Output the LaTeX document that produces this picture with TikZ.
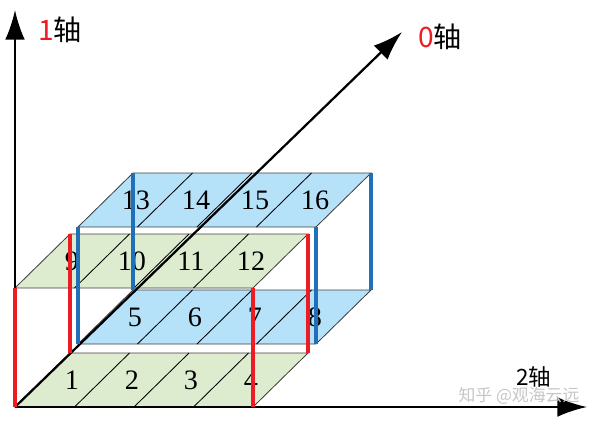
\documentclass[tikz,border=0pt]{standalone}
\usepackage{fontspec}
\setmainfont{Liberation Serif}
\newfontfamily\cjk{Noto Sans CJK SC}
\usetikzlibrary{arrows.meta}
\definecolor{cellgreen}{RGB}{221,235,207}
\definecolor{cellblue}{RGB}{181,225,249}
\definecolor{postblue}{RGB}{31,112,185}
\definecolor{postred}{RGB}{235,28,36}

\begin{document}
\begin{tikzpicture}[x=0.025cm,y=0.025cm,
    greenlayer/.style={fill=cellgreen,draw=black!75,line width=0.6pt},
    bluelayer/.style={fill=cellblue,draw=black!75,line width=0.6pt},
    divline/.style={black,line width=0.6pt},
    redpost/.style={postred,line width=2.4pt},
    bluepost/.style={postblue,line width=2.4pt},
    axis/.style={line width=1.6pt,-{Latex[length=21pt,width=14pt]}},
    num/.style={font=\fontsize{20}{24}\selectfont,inner sep=0pt},
    axlabel/.style={font=\cjk\fontsize{20}{24}\selectfont,inner sep=0pt}]
          \useasboundingbox (-15,-17) rectangle (585,407);
          % the four layers, bottom to top
          \filldraw[greenlayer] (0,0) -- ++(238,0) -- ++(55,54) -- ++(-238,0) -- cycle;
          \draw[divline] (59.5,0) -- ++(55,54) (119,0) -- ++(55,54) (178.5,0) -- ++(55,54);
          \filldraw[bluelayer] (63,63) -- ++(238,0) -- ++(55,54) -- ++(-238,0) -- cycle;
          \draw[divline] (122.5,63) -- ++(55,54) (182,63) -- ++(55,54) (241.5,63) -- ++(55,54);
          \filldraw[greenlayer] (0,119) -- ++(238,0) -- ++(55,54) -- ++(-238,0) -- cycle;
          \draw[divline] (59.5,119) -- ++(55,54) (119,119) -- ++(55,54) (178.5,119) -- ++(55,54);
          \filldraw[bluelayer] (63,180) -- ++(238,0) -- ++(55,54) -- ++(-238,0) -- cycle;
          \draw[divline] (122.5,180) -- ++(55,54) (182,180) -- ++(55,54) (241.5,180) -- ++(55,54);
          % cell numbers
          \node[num] (n1) at (57,27) {1};
          \node[num] (n2) at (117,27) {2};
          \node[num] (n3) at (176,27) {3};
          \node[num] (n4) at (236,27) {4};
          \node[num] (n5) at (120,90) {5};
          \node[num] (n6) at (180,90) {6};
          \node[num] (n7) at (240,90) {7};
          \node[num] (n8) at (300,90) {8};
          \node[num] (n9) at (57,146) {9};
          \node[num] (n10) at (117,146) {10};
          \node[num] (n11) at (176,146) {11};
          \node[num] (n12) at (236,146) {12};
          \node[num] (n13) at (121,207) {13};
          \node[num] (n14) at (181,207) {14};
          \node[num] (n15) at (240,207) {15};
          \node[num] (n16) at (300,207) {16};
          % axes
          \coordinate (o) at (0,0);
          \coordinate (tip0) at (387,375);
          \coordinate (tip1) at (0,397);
          \coordinate (tip2) at (572,0);
          \draw[axis] (o) -- (tip0);
          \draw[axis] (o) -- (tip1);
          \draw[axis] (o) -- (tip2);
          \node[axlabel] (lab1) at (45,377) {\textcolor{postred}{1}轴};
          \node[axlabel] (lab0) at (425,370) {\textcolor{postred}{0}轴};
          \node[axlabel,font=\cjk\fontsize{16}{19}\selectfont] (lab2) at (519,30) {2轴};
          \node[font=\cjk\fontsize{12}{14}\selectfont,text=gray!45] (mark) at (504,11) {知乎 @观海云远};
          % vertical edges
          \draw[redpost] (0,0) -- (0,119) (55,54) -- (55,173) (238,0) -- (238,119) (293,54) -- (293,173);
          \draw[bluepost] (63,63) -- (63,180) (118,117) -- (118,234) (301,63) -- (301,180) (356,117) -- (356,234);
        \end{tikzpicture}
\end{document}
